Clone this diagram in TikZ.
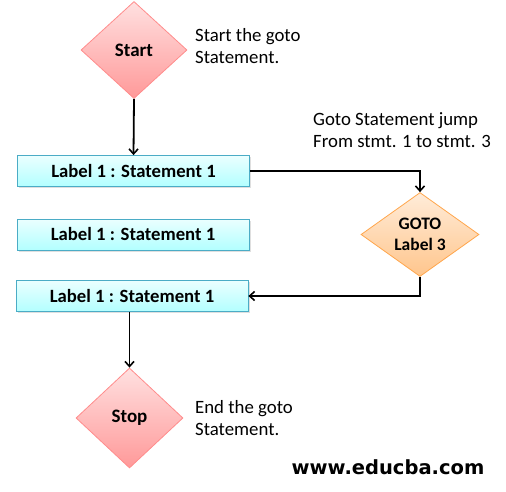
\documentclass[tikz,border=0pt]{standalone}
\usepackage{fontspec}
\setmainfont{Carlito}
\newfontfamily\wwwfont{DejaVu Sans}
\usetikzlibrary{shapes.geometric,arrows.meta,shadows}
\definecolor{boxline}{HTML}{4BACC6}
\tikzset{
  redgem/.style={diamond, draw=red!45!white, line width=0.8pt, top color=red!12!white, bottom color=red!40!white,
    inner sep=0pt, minimum width=106pt, minimum height=97pt, font=\fontsize{19}{20}\selectfont\bfseries},
  orangegem/.style={diamond, draw=orange!70!white, line width=0.8pt, top color=orange!15!white, bottom color=orange!45!white,
    inner sep=0pt, minimum width=118pt, minimum height=76pt, align=center, font=\fontsize{17.5}{21}\selectfont\bfseries},
  stmtbox/.style={rectangle, draw=boxline, line width=0.8pt, top color=cyan!8!white, bottom color=cyan!30!white,
    minimum width=232pt, minimum height=31pt, inner sep=0pt, font=\fontsize{18.7}{20}\selectfont\bfseries,
    drop shadow={opacity=0.25, shadow xshift=1.5pt, shadow yshift=-1.5pt}},
  note/.style={anchor=west, align=left, inner sep=0pt, font=\fontsize{18.8}{22}\selectfont},
  flow/.style={line width=1.8pt, -{Straight Barb[length=5pt,width=9pt,line width=1.6pt]}}
}
\begin{document}
\begin{tikzpicture}[x=1pt,y=-1pt]
\useasboundingbox (0,0) rectangle (506,492);
\node[redgem] (start) at (134,50) {Start};
\node[stmtbox] (s1) at (133.5,171) {Label 1 : Statement 1};
\node[stmtbox] (s2) at (133,234.5) {Label 1 : Statement 1};
\node[stmtbox] (s3) at (132,296) {Label 1 : Statement 1};
\node[orangegem] (goto) at (420,234.5) {GOTO\\Label 3};
\node[redgem, minimum width=107pt, minimum height=100pt] (stop) at (129.5,418) {Stop};
\node[note] (t1) at (195,46) {Start the goto\\Statement.};
\node[note] (t2) at (313,130) {Goto Statement jump\\From stmt. 1 to stmt. 3};
\node[note] (t3) at (195,418) {End the goto\\Statement.};
\node[inner sep=0pt, font=\wwwfont\fontsize{19.5}{20}\selectfont\bfseries] (www) at (388,467) {www.educba.com};
\draw[flow] (start.south) -- (s1.north);
\draw[flow] (s1.east) -| (goto.north);
\draw[flow] (goto.south) |- (s3.east);
\draw[flow] (s3.south -| stop.north) -- (stop.north);
\end{tikzpicture}
\end{document}
